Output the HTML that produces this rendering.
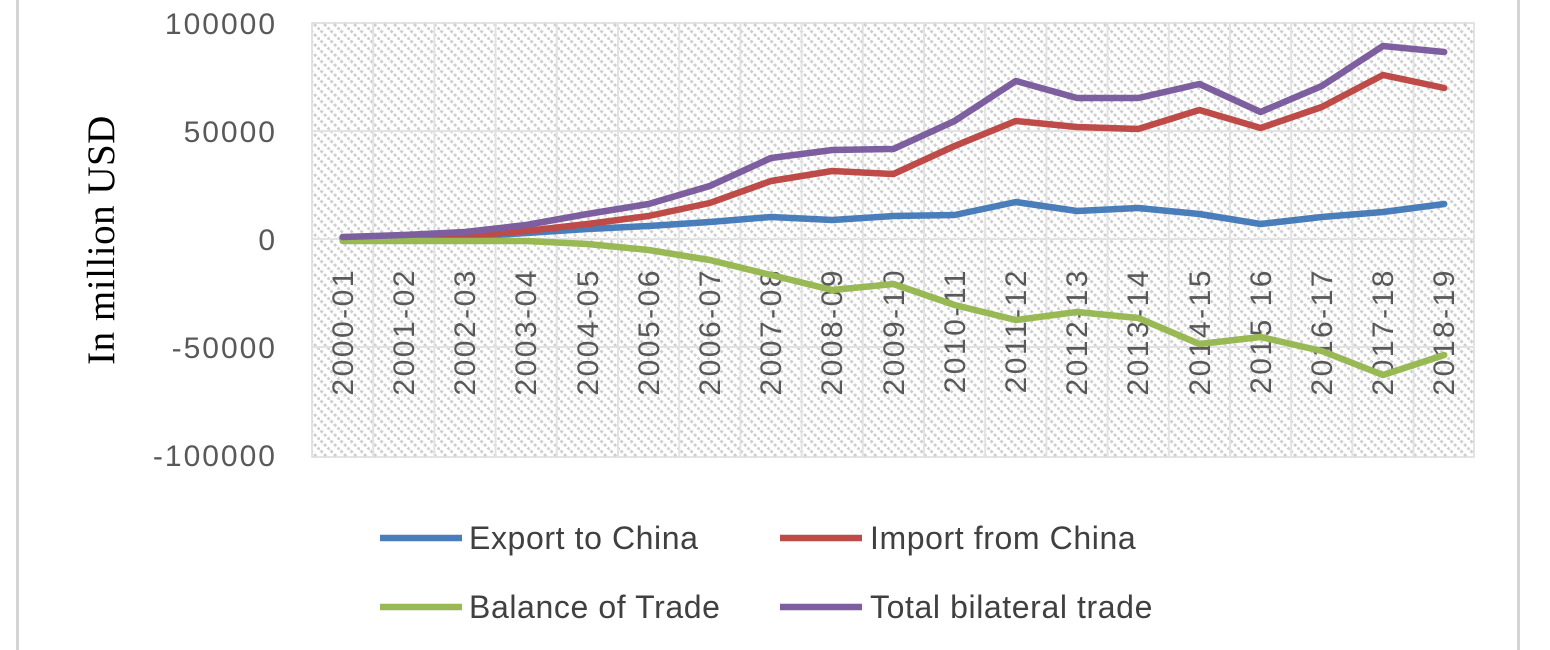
<!DOCTYPE html>
<html><head><meta charset="utf-8"><style>
body{margin:0;background:#fff;}
svg{display:block;}
text{font-family:"Liberation Sans",sans-serif;}
</style></head><body>
<svg width="1550" height="650" viewBox="0 0 1550 650" xmlns="http://www.w3.org/2000/svg">
<defs>
<pattern id="h" width="10" height="10" patternUnits="userSpaceOnUse">
<path d="M-3,-3 L13,13 M-3,7 L3,13 M7,-3 L13,3" stroke="#cfcfcf" stroke-width="2.8" stroke-dasharray="3,2"/>
</pattern>
</defs>
<rect x="16" y="0" width="3" height="650" fill="#d4d4d4"/>
<rect x="1517" y="0" width="3" height="650" fill="#d4d4d4"/>
<rect x="312" y="23" width="1162" height="434" fill="url(#h)" stroke="#dadada" stroke-width="1.5"/>
<g stroke="#e2e2e2" stroke-width="2">
<line x1="373.2" y1="23" x2="373.2" y2="457"/><line x1="434.4" y1="23" x2="434.4" y2="457"/><line x1="495.6" y1="23" x2="495.6" y2="457"/><line x1="556.8" y1="23" x2="556.8" y2="457"/><line x1="618" y1="23" x2="618" y2="457"/><line x1="679.2" y1="23" x2="679.2" y2="457"/><line x1="740.4" y1="23" x2="740.4" y2="457"/><line x1="801.6" y1="23" x2="801.6" y2="457"/><line x1="862.8" y1="23" x2="862.8" y2="457"/><line x1="924" y1="23" x2="924" y2="457"/><line x1="985.2" y1="23" x2="985.2" y2="457"/><line x1="1046.4" y1="23" x2="1046.4" y2="457"/><line x1="1107.6" y1="23" x2="1107.6" y2="457"/><line x1="1168.8" y1="23" x2="1168.8" y2="457"/><line x1="1230" y1="23" x2="1230" y2="457"/><line x1="1291.2" y1="23" x2="1291.2" y2="457"/><line x1="1352.4" y1="23" x2="1352.4" y2="457"/><line x1="1413.6" y1="23" x2="1413.6" y2="457"/>
<line x1="312" y1="131" x2="1474" y2="131"/><line x1="312" y1="239" x2="1474" y2="239"/><line x1="312" y1="347" x2="1474" y2="347"/>
</g>
<g fill="#595959" font-size="30" text-anchor="end" letter-spacing="2">
<text x="277" y="34">100000</text><text x="277" y="142">50000</text><text x="277" y="250">0</text><text x="277" y="358">-50000</text><text x="277" y="466">-100000</text>
</g>
<text transform="translate(114,240) rotate(-90)" text-anchor="middle" font-size="39" fill="#000" letter-spacing="0.5" style="font-family:'Liberation Serif',serif">In million USD</text>
<g fill="#595959" font-size="30" text-anchor="end" letter-spacing="2.5">
<text transform="translate(353,268) rotate(-90)">2000-01</text>
<text transform="translate(414,268) rotate(-90)">2001-02</text>
<text transform="translate(475,268) rotate(-90)">2002-03</text>
<text transform="translate(536,268) rotate(-90)">2003-04</text>
<text transform="translate(598,268) rotate(-90)">2004-05</text>
<text transform="translate(659,268) rotate(-90)">2005-06</text>
<text transform="translate(720,268) rotate(-90)">2006-07</text>
<text transform="translate(781,268) rotate(-90)">2007-08</text>
<text transform="translate(842,268) rotate(-90)">2008-09</text>
<text transform="translate(904,268) rotate(-90)">2009-10</text>
<text transform="translate(965,268) rotate(-90)">2010-11</text>
<text transform="translate(1026,268) rotate(-90)">2011-12</text>
<text transform="translate(1087,268) rotate(-90)">2012-13</text>
<text transform="translate(1148,268) rotate(-90)">2013-14</text>
<text transform="translate(1210,268) rotate(-90)">2014-15</text>
<text transform="translate(1271,268) rotate(-90)">2015 16</text>
<text transform="translate(1332,268) rotate(-90)">2016-17</text>
<text transform="translate(1393,268) rotate(-90)">2017-18</text>
<text transform="translate(1454,268) rotate(-90)">2018-19</text>
</g>
<g fill="none" stroke-width="6.5" stroke-linejoin="round" stroke-linecap="round">
<polyline stroke="#4a7ebb" points="342.6,239 403.8,238 465,237 526.2,233 587.4,229 648.6,226 709.8,222 771,217 832.2,220 893.4,216 954.6,215 1015.8,202 1077,211 1138.2,208 1199.4,214 1260.6,224 1321.8,217 1383,212 1444.2,204"/>
<polyline stroke="#be4b48" points="342.6,239 403.8,238 465,236 526.2,231 587.4,224 648.6,216 709.8,203 771,181 832.2,171 893.4,174 954.6,146 1015.8,121 1077,127 1138.2,129 1199.4,110 1260.6,128 1321.8,107 1383,75 1444.2,88"/>
<polyline stroke="#98b954" points="342.6,241 403.8,241 465,241 526.2,241 587.4,244 648.6,250 709.8,260 771,275 832.2,290 893.4,284 954.6,305 1015.8,320 1077,312 1138.2,318 1199.4,344 1260.6,337 1321.8,351 1383,375 1444.2,355"/>
<polyline stroke="#7d5fa0" points="342.6,237 403.8,235 465,232 526.2,225 587.4,214 648.6,204 709.8,186 771,158 832.2,150 893.4,149 954.6,121 1015.8,81 1077,98 1138.2,98 1199.4,84 1260.6,112 1321.8,86 1383,46 1444.2,52"/>
</g>
<g stroke-width="6.5">
<line x1="380" y1="538" x2="462" y2="538" stroke="#4a7ebb"/>
<line x1="780" y1="538" x2="862" y2="538" stroke="#be4b48"/>
<line x1="380" y1="607" x2="462" y2="607" stroke="#98b954"/>
<line x1="780" y1="607" x2="862" y2="607" stroke="#7d5fa0"/>
</g>
<g fill="#404040" font-size="32" letter-spacing="0.6">
<text x="469" y="549">Export to China</text>
<text x="870" y="549">Import from China</text>
<text x="469" y="618">Balance of Trade</text>
<text x="870" y="618">Total bilateral trade</text>
</g>
</svg>
</body></html>
